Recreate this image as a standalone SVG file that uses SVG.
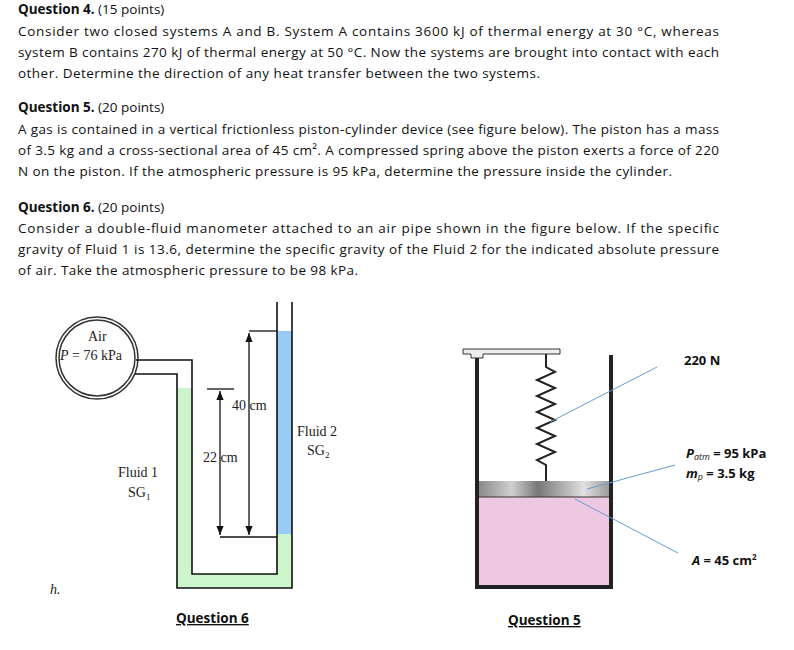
<svg xmlns="http://www.w3.org/2000/svg" width="794" height="650" viewBox="0 0 794 650">
<defs>
<style>
.t{font-family:"Open Sans","Liberation Sans",sans-serif;font-size:13.5px;fill:#111}
.b{font-weight:bold}
.s{font-family:"Liberation Serif",serif;font-size:14px;fill:#222}
.w{stroke:#111;stroke-width:1.6;fill:none}
.ln{stroke:#111;stroke-width:1.3;fill:none}
.ld{stroke:#6a9ccc;stroke-width:1;fill:none}
.lb{font-family:"Open Sans","Liberation Sans",sans-serif;font-size:13px;font-weight:bold;fill:#111}
</style>
<marker id="ar" viewBox="0 0 10 10" refX="10" refY="5" markerWidth="7" markerHeight="7" orient="auto-start-reverse"><path d="M0,1 L10,5 L0,9 Z" fill="#111"/></marker>
<linearGradient id="pg" x1="0" x2="1" y1="0" y2="0">
<stop offset="0" stop-color="#8a8a8a"/><stop offset="0.25" stop-color="#d0d0d0"/><stop offset="0.45" stop-color="#777"/><stop offset="0.8" stop-color="#e0e0e0"/><stop offset="1" stop-color="#999"/></linearGradient>
</defs>
<rect width="794" height="650" fill="#fff"/>
<g id="text">
<text class="t" x="18" y="14"><tspan class="b">Question 4.</tspan> (15 points)</text>
<text class="t" x="18" y="36" textLength="701">Consider two closed systems A and B. System A contains 3600 kJ of thermal energy at 30 °C, whereas</text>
<text class="t" x="18" y="57" textLength="701">system B contains 270 kJ of thermal energy at 50 °C. Now the systems are brought into contact with each</text>
<text class="t" x="18" y="78" textLength="522">other. Determine the direction of any heat transfer between the two systems.</text>
<text class="t" x="18" y="112"><tspan class="b">Question 5.</tspan> (20 points)</text>
<text class="t" x="18" y="134" textLength="701">A gas is contained in a vertical frictionless piston-cylinder device (see figure below). The piston has a mass</text>
<text class="t" x="18" y="155" textLength="701">of 3.5 kg and a cross-sectional area of 45 cm². A compressed spring above the piston exerts a force of 220</text>
<text class="t" x="18" y="176" textLength="654">N on the piston. If the atmospheric pressure is 95 kPa, determine the pressure inside the cylinder.</text>
<text class="t" x="18" y="212"><tspan class="b">Question 6.</tspan> (20 points)</text>
<text class="t" x="18" y="233" textLength="701">Consider a double-fluid manometer attached to an air pipe shown in the figure below. If the specific</text>
<text class="t" x="18" y="254" textLength="701">gravity of Fluid 1 is 13.6, determine the specific gravity of the Fluid 2 for the indicated absolute pressure</text>
<text class="t" x="18" y="275" textLength="340">of air. Take the atmospheric pressure to be 98 kPa.</text>
</g>
<g id="manometer">
<path d="M177,388 H192 V574 H277 V534 H292 V588 H177 Z" fill="#ccf5cc"/>
<rect x="277" y="331" width="15" height="203" fill="#99ccf5"/>
<circle cx="97" cy="358" r="41" fill="#fff" stroke="#333" stroke-width="1.5"/>
<circle cx="97" cy="358" r="38" fill="#fff" stroke="#333" stroke-width="1.5"/>
<path class="w" d="M136,360 H192 V574 H277 V302"/>
<path class="w" d="M135,374 H177 V588 H292 V302"/>
<text class="s" x="88" y="341">Air</text>
<text class="s" x="60" y="360"><tspan font-style="italic">P</tspan> = 76 kPa</text>
</g>
<g id="dimensions">
<line class="ln" x1="249" y1="331" x2="277" y2="331"/>
<line class="ln" x1="220" y1="537" x2="277" y2="537"/>
<line class="ln" x1="207" y1="389" x2="234" y2="389"/>
<line class="ln" x1="249" y1="333" x2="249" y2="535" marker-start="url(#ar)" marker-end="url(#ar)"/>
<line class="ln" x1="220" y1="391" x2="220" y2="535" marker-start="url(#ar)" marker-end="url(#ar)"/>
<rect x="231" y="397" width="42" height="16" fill="#fff"/>
<text class="s" x="232" y="410">40 cm</text>
<rect x="203" y="450" width="42" height="16" fill="#fff"/>
<text class="s" x="203" y="462">22 cm</text>
<line class="ln" x1="249" y1="397" x2="249" y2="413"/>
<line class="ln" x1="220" y1="450" x2="220" y2="466"/>
<text class="s" x="297" y="436">Fluid 2</text>
<text class="s" x="307" y="455">SG<tspan font-size="9" dy="3">2</tspan></text>
<text class="s" x="118" y="477">Fluid 1</text>
<text class="s" x="128" y="497">SG<tspan font-size="9" dy="3">1</tspan></text>
<text class="s" x="50" y="594" font-size="9" font-style="italic">h.</text>
<text class="t b" x="176" y="623" text-decoration="underline">Question 6</text>
</g>
<g id="cylinder">
<rect x="479" y="497" width="131" height="88" fill="#eec8e2"/>
<rect x="479" y="481" width="131" height="16" fill="url(#pg)"/>
<line x1="479" y1="497" x2="610" y2="497" stroke="#333" stroke-width="1"/>
<path d="M477,355 V587 H611 V355" fill="none" stroke="#222" stroke-width="4"/>
<path d="M463,349 H560 V354 H483 V358 H471 V354 H463 Z" fill="#eee" stroke="#333" stroke-width="1"/>
<polyline fill="none" stroke="#222" stroke-width="2" points="546,354 546,367 555,372 537,380 555,388 537,396 555,404 537,412 555,420 537,428 555,436 537,444 555,452 537,460 546,465 546,481"/>
</g>
<g id="leaders">
<line class="ld" x1="657" y1="367" x2="550" y2="422"/>
<line class="ld" x1="675" y1="465" x2="587" y2="489"/>
<line class="ld" x1="678" y1="553" x2="575" y2="499"/>
</g>
<g id="labels">
<text class="lb" x="684" y="365">220 N</text>
<text class="lb" x="686" y="458"><tspan font-style="italic">P</tspan><tspan font-size="9" font-style="italic" font-weight="normal" dy="2">atm</tspan><tspan dy="-2"> = 95 kPa</tspan></text>
<text class="lb" x="686" y="478"><tspan font-style="italic">m</tspan><tspan font-size="9" font-style="italic" font-weight="normal" dy="2">p</tspan><tspan dy="-2"> = 3.5 kg</tspan></text>
<text class="lb" x="692" y="565"><tspan font-style="italic">A</tspan> = 45 cm<tspan font-size="8" dy="-5">2</tspan></text>
<text class="t b" x="508" y="625" text-decoration="underline">Question 5</text>
</g>
</svg>
